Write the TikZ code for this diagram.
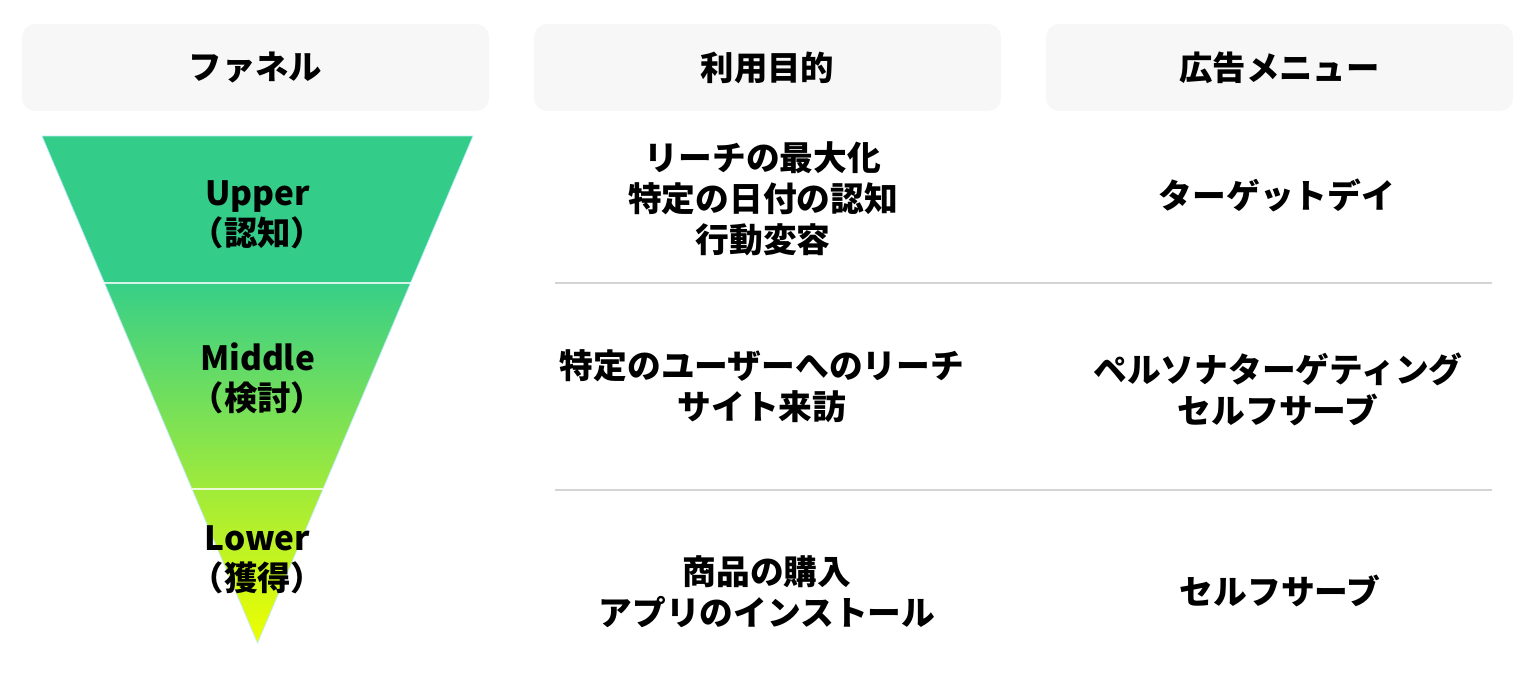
\documentclass[tikz,border=0pt]{standalone}
\usepackage{fontspec}
\setmainfont{Noto Sans CJK JP}

\definecolor{funnelTop}{HTML}{33CC88}
\definecolor{funnelMid}{HTML}{37CF88}
\definecolor{funnelTip}{HTML}{EEFF00}
\definecolor{headerGray}{HTML}{F7F7F7}
\definecolor{ruleGray}{HTML}{D4D4D4}

\begin{document}
\begin{tikzpicture}[x=0.02cm, y=-0.02cm,
headerbox/.style={rectangle, rounded corners=0.26cm, fill=headerGray, minimum width=9.34cm, minimum height=1.74cm, font=\bfseries\fontsize{19}{23}\selectfont},
cellnode/.style={align=center, inner sep=0pt, font=\bfseries\fontsize{19.2}{23.4}\selectfont},
funnellabel/.style={align=center, inner sep=0pt, font=\bfseries\fontsize{19}{22.6}\selectfont}]
\useasboundingbox[fill=white] (0,0) rectangle (1536,673);

\node[headerbox](hdFunnel) at (255.5, 67.5) {ファネル};
\node[headerbox](hdPurpose) at (767.5, 67.5) {利用目的};
\node[headerbox](hdMenu) at (1279.5, 67.5) {広告メニュー};

% funnel
\fill[funnelTop] (42, 136) -- (473, 136) -- (410.5, 283) -- (104.3, 283) -- cycle;
\shade[top color=funnelMid, bottom color=funnelTip] (104.3, 283) -- (410.5, 283) -- (257.5, 643) -- cycle;
\draw[cyan!25, line width=0.4pt] (42, 136) -- (473, 136) -- (257.5, 643) -- cycle;
\draw[white, opacity=0.8, line width=0.7pt] (104.3, 283) -- (410.5, 283);
\draw[white, opacity=0.8, line width=0.7pt] (191.7, 489) -- (322.6, 489);

\node[funnellabel](upperLabel) at (257.5, 214.5) {Upper\\（認知）};
\node[funnellabel](middleLabel) at (257.5, 378) {Middle\\（検討）};
\node[funnellabel](lowerLabel) at (257.5, 559.5) {Lower\\（獲得）};

% rows
\coordinate (ruleAwest) at (555, 283);
\coordinate (ruleAeast) at (1492, 283);
\coordinate (ruleBwest) at (555, 490);
\coordinate (ruleBeast) at (1492, 490);
\draw[ruleGray, line width=1.1pt] (ruleAwest) -- (ruleAeast);
\draw[ruleGray, line width=1.1pt] (ruleBwest) -- (ruleBeast);

\node[cellnode](purposeUpper) at (763, 199) {リーチの最大化\\特定の日付の認知\\行動変容};
\node[cellnode](purposeMiddle) at (762, 386) {特定のユーザーへのリーチ\\サイト来訪};
\node[cellnode](purposeLower) at (767, 592) {商品の購入\\アプリのインストール};

\node[cellnode](menuUpper) at (1277, 195) {ターゲットデイ};
\node[cellnode](menuMiddle) at (1278, 389) {ペルソナターゲティング\\セルフサーブ};
\node[cellnode](menuLower) at (1280, 591) {セルフサーブ};

\end{tikzpicture}
\end{document}
